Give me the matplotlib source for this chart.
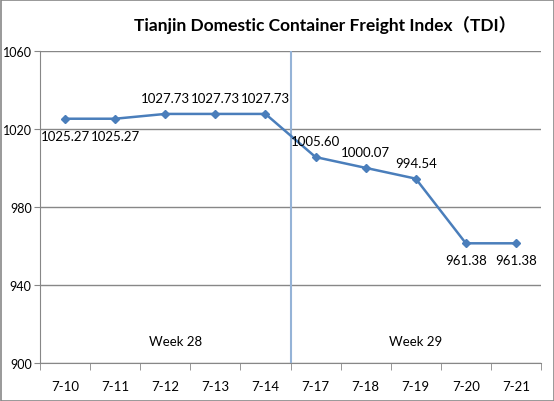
import matplotlib
matplotlib.use("Agg")
import matplotlib.pyplot as plt
from matplotlib.patches import Rectangle

categories = ["7-10", "7-11", "7-12", "7-13", "7-14", "7-17", "7-18", "7-19", "7-20", "7-21"]
values = [1025.27, 1025.27, 1027.73, 1027.73, 1027.73, 1005.60, 1000.07, 994.54, 961.38, 961.38]
label_above = [False, False, True, True, True, True, True, True, False, False]
week_labels = ["Week 28", "Week 29"]
yticks = [900, 940, 980, 1020, 1060]

plt.rcParams['font.family'] = ['Lato', 'Noto Sans CJK SC', 'DejaVu Sans']

W, H = 554, 402
fig = plt.figure(figsize=(W/100, H/100), dpi=100)
fig.patches.append(Rectangle((0.5/W, 0.5/H), 1-1/W, 1-1/H, transform=fig.transFigure,
                             fill=False, edgecolor='#878787', linewidth=1.2))
ax = fig.add_axes([40/W, (H-364)/H, (541-40)/W, (364-52)/H])

x = list(range(len(categories)))
ax.plot(x, values, color='#4A7EBB', linewidth=1.8, marker='D', markersize=4,
        markerfacecolor='#4A7EBB', markeredgecolor='#4A7EBB', zorder=3)

for xi, v, up in zip(x, values, label_above):
    ax.annotate(f"{v:.2f}", (xi, v), xytext=(0, 7 if up else -8), textcoords='offset points',
                ha='center', va='bottom' if up else 'top', fontsize=9.5, color='black')

ax.set_xlim(-0.5, len(categories)-0.5)
ax.set_ylim(900, 1060)
ax.set_yticks(yticks)
ax.set_yticklabels([str(t) for t in yticks], fontsize=9)
ax.set_xticks(x)
ax.set_xticklabels(categories, fontsize=9.5)
ax.set_xticks([i - 0.5 for i in range(len(categories)+1)], minor=True)
ax.tick_params(axis='x', which='major', length=0, pad=12)
ax.tick_params(axis='x', which='minor', length=5, direction='out', color='#878787')
ax.tick_params(axis='y', length=4, direction='out', color='#878787', pad=2)
ax.yaxis.grid(True, color='#878787', linewidth=1)
ax.set_axisbelow(True)
for s in ['top', 'right']:
    ax.spines[s].set_visible(False)
ax.spines['left'].set_color('#878787')
ax.spines['bottom'].set_color('#878787')

ax.axvline(4.5, color='#95B3D7', linewidth=1.5, zorder=2)

ax.text(2.2, 908, week_labels[0], ha='center', va='bottom', fontsize=9.5)
ax.text(7.0, 908, week_labels[1], ha='center', va='bottom', fontsize=9.5)

fig.text(325/W, 1-25/H, "Tianjin Domestic Container Freight Index（TDI）", ha='center', va='center',
         fontsize=12.5, fontweight='bold')

fig.savefig("out.png", dpi=100)
